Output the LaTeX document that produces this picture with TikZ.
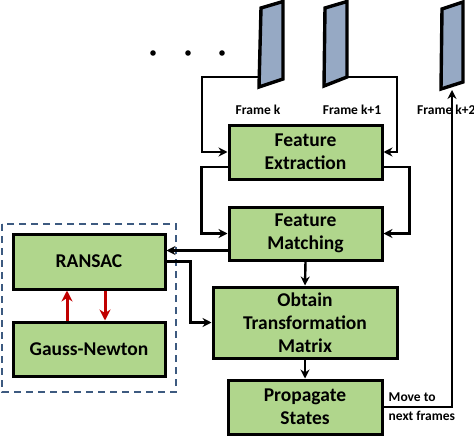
\documentclass[tikz,border=0pt]{standalone}
\usepackage{fontspec}
\setmainfont{Carlito}
\usetikzlibrary{arrows.meta,positioning,calc}

\definecolor{boxgreen}{HTML}{B0D68C}
\definecolor{framefill}{HTML}{96A9C4}
\definecolor{dashblue}{HTML}{3D5A80}
\definecolor{arrowred}{HTML}{C00000}

\tikzset{
  block/.style={draw=black,line width=3pt,fill=boxgreen,inner sep=0pt,align=center,
    font=\bfseries\fontsize{19.5}{23}\selectfont},
  frameimg/.style={draw=black,line width=3.4pt,fill=framefill,line join=miter},
  lbl/.style={font=\bfseries\fontsize{13.5}{19}\selectfont,inner sep=0pt},
  conn/.style={line width=2.4pt,-{Stealth[length=9pt,width=9pt]}},
  redconn/.style={line width=3pt,arrowred,-{Stealth[length=11pt,width=11pt]}}
}

\begin{document}
\begin{tikzpicture}[x=1pt,y=-1pt]
  \useasboundingbox (0,0) rectangle (474,436);
  % frames
  \draw[frameimg] (261,8) -- (283,1.5) -- (283,79) -- (259,87) -- cycle;
  \draw[frameimg] (325,8) -- (347,1.5) -- (347,77) -- (324,86) -- cycle;
  \draw[frameimg] (442,9) -- (463,2) -- (463,82) -- (441,89) -- cycle;
  \coordinate (fk)  at (260,77);
  \coordinate (fk1) at (347,77);
  \coordinate (fk2) at (452,90);
  \foreach \x in {153,188,222}
    \fill (\x,53) circle (2.8pt);
  \node[lbl] (lk)  at (258,110) {Frame k};
  \node[lbl] (lk1) at (352,110) {Frame k+1};
  \node[lbl,anchor=west] (lk2) at (417,110) {Frame k+2};

  % blocks
  \node[block,minimum width=153pt,minimum height=54pt] (fe)  at (305.5,152) {Feature\\Extraction};
  \node[block,minimum width=153pt,minimum height=53pt] (fm)  at (305.5,233.5) {Feature\\Matching};
  \node[block,minimum width=184pt,minimum height=71pt] (otm) at (305,322.5) {Obtain\\Transformation\\Matrix};
  \node[block,minimum width=154pt,minimum height=54pt] (ps)  at (305,407) {Propagate\\States};
  \node[block,minimum width=152pt,minimum height=55pt] (ransac) at (89,261.5) {RANSAC};
  \node[block,minimum width=152pt,minimum height=54pt] (gn) at (89,349) {Gauss-Newton};
  \draw[dashblue,line width=2.6pt,dash pattern=on 7pt off 5pt] (2,224) rectangle (176,392);

  % connectors
  \draw[conn] (fk) -- ++(-58,0) |- (fe.west);
  \draw[conn] (fk1) -- ++(50,0) |- (fe.east);
  \draw[conn] ([yshift=-15pt]fe.west) -- ++(-26,0) |- (fm.west);
  \draw[conn] ([yshift=-15pt]fe.east) -- ++(26,0) |- (fm.east);
  \draw[conn] ([yshift=-17pt]fm.west) -- ([yshift=-17pt]fm.west -| ransac.east);
  \draw[conn] (fm.south) -- (otm.north);
  \draw[conn] (ransac.east) -- ++(24,0) |- (otm.west);
  \draw[conn] (otm.south) -- (ps.north);
  \draw[conn] (ps.east) -| (fk2);
  \node[lbl,anchor=west,align=left] (mv) at ([xshift=5pt]ps.east) {Move to\\next frames};
  \draw[redconn] ([xshift=-22pt]gn.north) -- ([xshift=-22pt]ransac.south);
  \draw[redconn] ([xshift=16pt]ransac.south) -- ([xshift=16pt]gn.north);
\end{tikzpicture}
\end{document}
